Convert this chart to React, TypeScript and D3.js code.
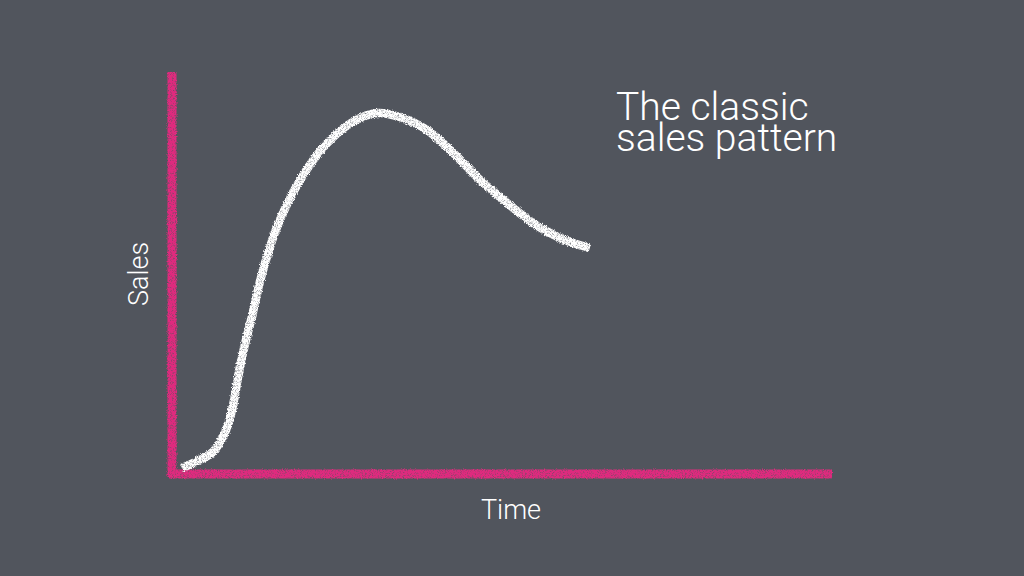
import {useEffect, useRef} from "react";
import * as d3 from 'd3'

// time / sales readings (0..100 on both axes)
const time = [1.5, 3.7, 6.2, 8.0, 9.0, 10.3, 11.1, 12.1, 13.5, 15.9, 19.4, 23.5, 27.4, 31.1, 34.5, 38.6, 42.6, 46.7, 50.8, 54.7, 58.8, 63.3]
const sales = [1.5, 3.1, 5.5, 10.2, 15.2, 26.7, 32.6, 39.1, 49.0, 61.4, 73.1, 82.3, 87.6, 89.8, 88.8, 85.6, 79.9, 73.1, 67.4, 62.4, 58.7, 56.2]
const xLabel = "Time"
const yLabel = "Sales"
const titleLines = ["The classic", "sales pattern"]

const W = 1024
const H = 576

const App = () => {
    const svgRef = useRef<SVGSVGElement>(null)

    useEffect(() => {
        const svg = d3.select(svgRef.current)
        svg.selectAll("*").remove()

        const x = d3.scaleLinear().domain([0, 100]).range([172, 832])
        const y = d3.scaleLinear().domain([0, 100]).range([474, 72])

        // chalky look: rough edges + speckles
        const defs = svg.append("defs")
        const f = defs.append("filter").attr("id", "chalk")
            .attr("x", "-5%").attr("y", "-5%").attr("width", "110%").attr("height", "110%")
        f.append("feTurbulence").attr("type", "fractalNoise").attr("baseFrequency", 0.9)
            .attr("numOctaves", 2).attr("seed", 3).attr("result", "noise")
        f.append("feDisplacementMap").attr("in", "SourceGraphic").attr("in2", "noise")
            .attr("scale", 3.5).attr("xChannelSelector", "R").attr("yChannelSelector", "G").attr("result", "rough")
        f.append("feTurbulence").attr("type", "fractalNoise").attr("baseFrequency", 1.6)
            .attr("numOctaves", 1).attr("seed", 7).attr("result", "grain")
        f.append("feColorMatrix").attr("in", "grain").attr("type", "matrix")
            .attr("values", "0 0 0 0 0  0 0 0 0 0  0 0 0 0 0  0 0 0 -2.2 2.1").attr("result", "grainA")
        f.append("feComposite").attr("in", "rough").attr("in2", "grainA").attr("operator", "in")

        svg.append("rect").attr("width", W).attr("height", H).attr("fill", "#51555d")

        const pink = "#df2a7e"
        const axes = svg.append("g").attr("filter", "url(#chalk)")
        axes.append("line")
            .attr("x1", x(0)).attr("x2", x(0))
            .attr("y1", y(100)).attr("y2", y(0) + 3)
            .attr("stroke", pink).attr("stroke-width", 9)
        axes.append("line")
            .attr("x1", x(0) - 3).attr("x2", x(100))
            .attr("y1", y(0)).attr("y2", y(0))
            .attr("stroke", pink).attr("stroke-width", 9)

        const pts: [number, number][] = time.map((t, i) => [t, sales[i]])
        const line = d3.line<[number, number]>()
            .x(d => x(d[0]))
            .y(d => y(d[1]))
            .curve(d3.curveCatmullRom.alpha(0.5))

        svg.append("path")
            .attr("d", line(pts))
            .attr("fill", "none")
            .attr("stroke", "#ffffff")
            .attr("stroke-width", 8.5)
            .attr("stroke-linecap", "butt")
            .attr("filter", "url(#chalk)")

        const font = "Roboto, 'Helvetica Neue', 'Liberation Sans', sans-serif"

        svg.append("text")
            .attr("x", 511).attr("y", 519)
            .attr("text-anchor", "middle")
            .attr("font-family", font).attr("font-weight", 300)
            .attr("font-size", 27).attr("fill", "#ffffff")
            .text(xLabel)

        svg.append("text")
            .attr("transform", "translate(148,274) rotate(-90)")
            .attr("text-anchor", "middle")
            .attr("font-family", font).attr("font-weight", 300)
            .attr("font-size", 27).attr("fill", "#ffffff")
            .text(yLabel)

        svg.append("g").selectAll("text")
            .data(titleLines)
            .join("text")
            .attr("x", 616)
            .attr("y", (d, i) => 120 + i * 31)
            .attr("font-family", font).attr("font-weight", 300)
            .attr("font-size", 39).attr("fill", "#ffffff")
            .text(d => d)
    }, [])

    return (
        <div style={{position: "fixed", left: 0, top: 0, width: W, height: H}}>
            <svg ref={svgRef} width={W} height={H} style={{display: "block"}}></svg>
        </div>
    )
}

export default App
